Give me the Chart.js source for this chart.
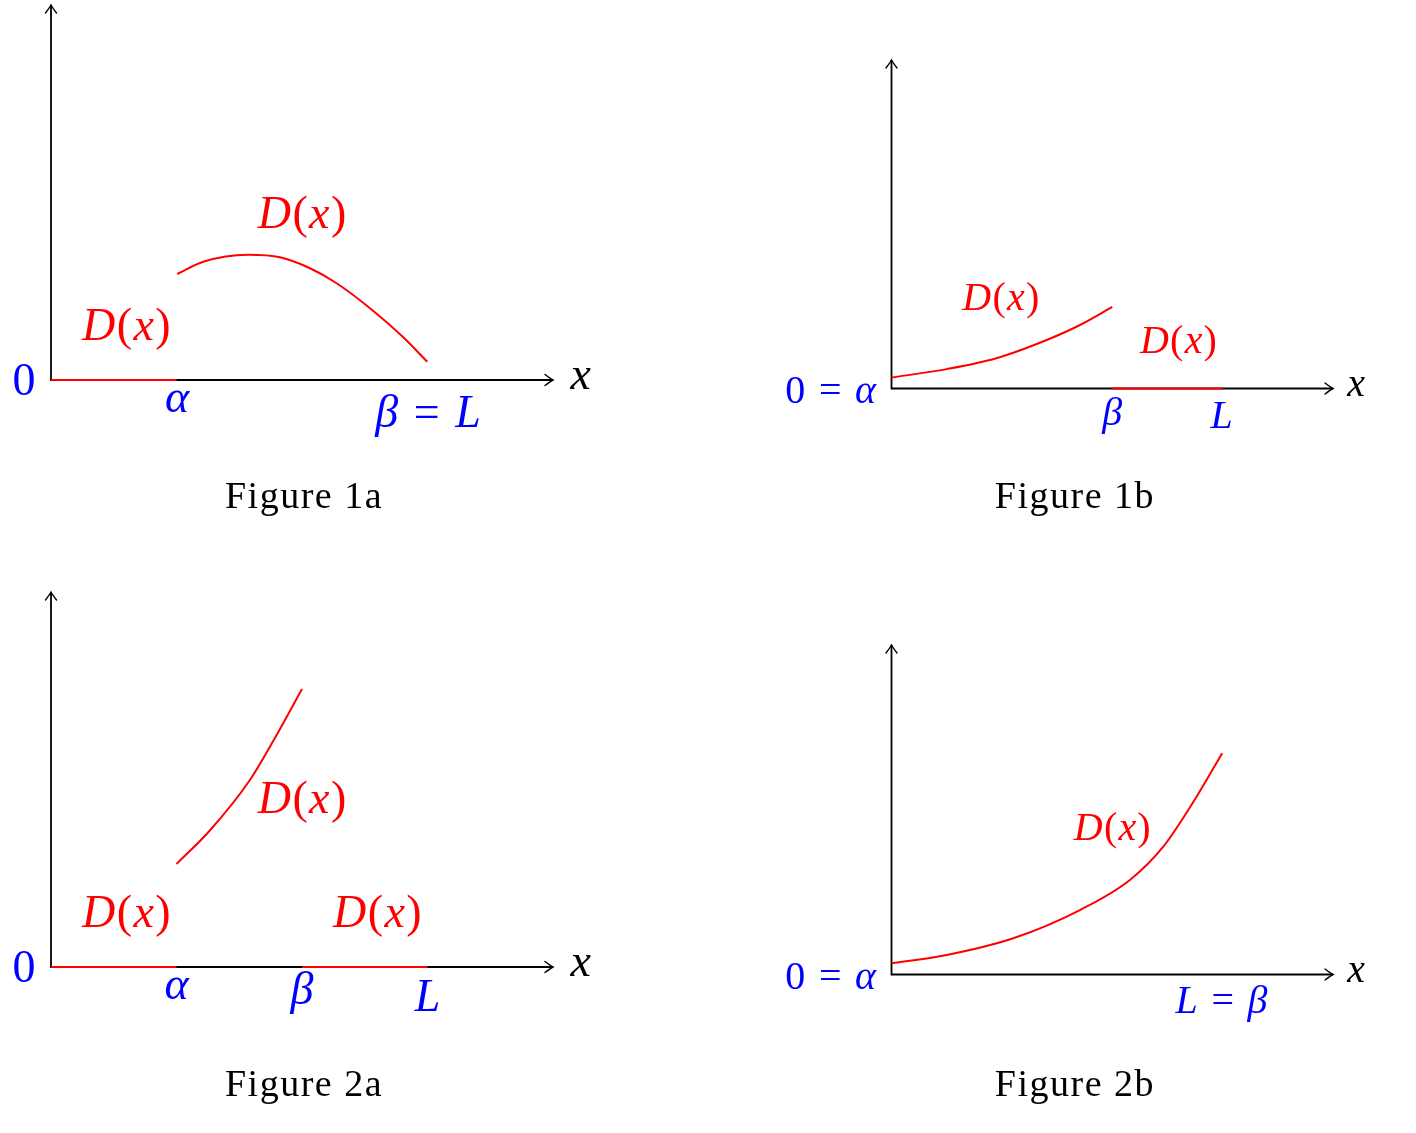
<!DOCTYPE html>
<html>
<head>
<meta charset="utf-8">
<script src="https://cdn.jsdelivr.net/npm/chart.js@4.4.1/dist/chart.umd.min.js"></script>
<style>
  html, body { margin: 0; padding: 0; background: #ffffff; }
  #wrap { position: relative; width: 1416px; height: 1133px; background: #fff; overflow: hidden; }
  canvas { position: absolute; }
</style>
</head>
<body>
<div id="wrap">
  <canvas id="c1a"></canvas>
  <canvas id="c1b"></canvas>
  <canvas id="c2a"></canvas>
  <canvas id="c2b"></canvas>
</div>
<script>
// ---------------- DATA ----------------
// Figure 1a
const fig1aCurveX = [1.006, 1.213, 1.572, 1.825, 2.064, 2.276, 2.542, 2.807, 2.998];
const fig1aCurveY = [0.848, 0.946, 1.002, 0.982, 0.894, 0.774, 0.574, 0.342, 0.146];
const fig1aFlatX  = [0, 1];           // D(x) = 0 on [0, alpha]
// Figure 1b
const fig1bCurveX = [0, 0.50, 0.95, 1.406, 1.708, 2.0];
const fig1bCurveY = [0.100, 0.177, 0.276, 0.443, 0.580, 0.745];
const fig1bFlatX  = [2, 3];           // D(x) = 0 on [beta, L]
// Figure 2a
const fig2aCurveX = [1.0, 1.262, 1.585, 1.79, 2.0];
const fig2aCurveY = [0.824, 1.088, 1.496, 1.842, 2.224];
const fig2aFlat1X = [0, 1];
const fig2aFlat2X = [2, 3];
// Figure 2b
const fig2bCurveX = [0, 0.50, 1.103, 1.707, 2.16, 2.462, 2.764, 2.996];
const fig2bCurveY = [0.102, 0.178, 0.330, 0.587, 0.861, 1.164, 1.619, 2.015];
// axis extents (data units)
const axisXMax = 4;
const axisYMax = 3;
// text content
const fig1aTexts = ['0', 'α', 'β = L', 'D(x)', 'D(x)', 'x'];
const fig1bTexts = ['0 = α', 'β', 'L', 'D(x)', 'D(x)', 'x'];
const fig2aTexts = ['0', 'α', 'β', 'L', 'D(x)', 'D(x)', 'D(x)', 'x'];
const fig2bTexts = ['0 = α', 'L = β', 'D(x)', 'x'];
const captions = ['Figure 1a', 'Figure 1b', 'Figure 2a', 'Figure 2b'];

// ---------------- LAYOUT / STYLE ----------------
const RED = '#ff0000', BLUE = '#0000ff', BLACK = '#000000';
const SERIF = '"Liberation Serif", "DejaVu Serif", serif';

function pts(xs, ys) { return xs.map((x, i) => ({ x: x, y: ys[i] })); }
function flat(xs) { return xs.map(x => ({ x: x, y: 0 })); }

const panels = [
  {
    id: 'c1a', left: 0, top: 0, w: 708, h: 560,
    pad: { left: 51, top: 5, right: 155, bottom: 180 }, fs: 46,
    caption: { text: captions[0], x: 2.016, y: -1.024 },
    labels: [
      { t: fig1aTexts[0], x: -0.215, y: -0.12, c: BLUE },
      { t: fig1aTexts[1], x: 1.004, y: -0.256, c: BLUE },
      { t: fig1aTexts[2], x: 3.004, y: -0.376, c: BLUE },
      { t: fig1aTexts[3], x: 2.0, y: 1.216, c: RED },
      { t: fig1aTexts[4], x: 0.6, y: 0.32, c: RED },
      { t: fig1aTexts[5], x: 4.22, y: -0.072, c: BLACK }
    ],
    datasets: [pts(fig1aCurveX, fig1aCurveY), flat(fig1aFlatX)]
  },
  {
    id: 'c1b', left: 708, top: 0, w: 708, h: 560,
    pad: { left: 183.5, top: 60, right: 83, bottom: 171.5 }, fs: 40,
    caption: { text: captions[1], x: 1.662, y: -1.09 },
    labels: [
      { t: fig1bTexts[0], x: -0.14, y: -0.132, c: BLUE, a: 'right' },
      { t: fig1bTexts[1], x: 2.0, y: -0.333, c: BLUE },
      { t: fig1bTexts[2], x: 2.99, y: -0.36, c: BLUE },
      { t: fig1bTexts[3], x: 0.99, y: 0.717, c: RED },
      { t: fig1bTexts[4], x: 2.6, y: 0.324, c: RED },
      { t: fig1bTexts[5], x: 4.21, y: -0.07, c: BLACK }
    ],
    datasets: [pts(fig1bCurveX, fig1bCurveY), flat(fig1bFlatX)]
  },
  {
    id: 'c2a', left: 0, top: 560, w: 708, h: 573,
    pad: { left: 51, top: 32, right: 155, bottom: 166 }, fs: 46,
    caption: { text: captions[2], x: 2.016, y: -1.032 },
    labels: [
      { t: fig2aTexts[0], x: -0.215, y: -0.12, c: BLUE },
      { t: fig2aTexts[1], x: 1.0, y: -0.256, c: BLUE },
      { t: fig2aTexts[2], x: 2.0, y: -0.296, c: BLUE },
      { t: fig2aTexts[3], x: 3.0, y: -0.352, c: BLUE },
      { t: fig2aTexts[4], x: 2.0, y: 1.232, c: RED },
      { t: fig2aTexts[5], x: 0.6, y: 0.32, c: RED },
      { t: fig2aTexts[6], x: 2.6, y: 0.32, c: RED },
      { t: fig2aTexts[7], x: 4.22, y: -0.072, c: BLACK }
    ],
    datasets: [pts(fig2aCurveX, fig2aCurveY), flat(fig2aFlat1X), flat(fig2aFlat2X)]
  },
  {
    id: 'c2b', left: 708, top: 560, w: 708, h: 573,
    pad: { left: 183.5, top: 85, right: 83, bottom: 158.5 }, fs: 40,
    caption: { text: captions[3], x: 1.662, y: -1.107 },
    labels: [
      { t: fig2bTexts[0], x: -0.14, y: -0.132, c: BLUE, a: 'right' },
      { t: fig2bTexts[1], x: 2.99, y: -0.35, c: BLUE },
      { t: fig2bTexts[2], x: 2.0, y: 1.225, c: RED },
      { t: fig2bTexts[3], x: 4.21, y: -0.068, c: BLACK }
    ],
    datasets: [pts(fig2bCurveX, fig2bCurveY)]
  }
];

// math-like text: letters italic, digits / symbols upright, spaced '='
function mathRuns(str) {
  const runs = [];
  for (const ch of str) {
    if (ch === ' ') continue;
    runs.push({ ch: ch, it: /[A-Za-z\u03b1-\u03c9]/.test(ch) });
  }
  return runs;
}
function drawMath(ctx, str, x, y, size, color, align) {
  const runs = mathRuns(str);
  const gap = size * 0.34;
  let total = 0;
  runs.forEach(r => {
    ctx.font = (r.it ? 'italic ' : '') + size + 'px ' + SERIF;
    r.w = ctx.measureText(r.ch).width;
    r.pre = r.ch === '=' ? gap : (r.ch === ')' || r.ch === '(' ? size * 0.03 : 0);
    r.post = r.ch === '=' ? gap : (r.ch === '(' ? size * 0.03 : 0);
    total += r.pre + r.w + r.post;
  });
  let cx = align === 'right' ? x - total : (align === 'left' ? x : x - total / 2);
  ctx.fillStyle = color;
  ctx.textAlign = 'left';
  ctx.textBaseline = 'alphabetic';
  runs.forEach(r => {
    ctx.font = (r.it ? 'italic ' : '') + size + 'px ' + SERIF;
    cx += r.pre;
    ctx.fillText(r.ch, cx, y);
    cx += r.w + r.post;
  });
}

function arrowHead(ctx, x, y, dir) {
  const L = 8, W = 5.5;
  ctx.beginPath();
  if (dir === 'right') {
    ctx.moveTo(x - L, y - W);
    ctx.quadraticCurveTo(x - 2, y - 1, x, y);
    ctx.quadraticCurveTo(x - 2, y + 1, x - L, y + W);
  } else {
    ctx.moveTo(x - W, y + L);
    ctx.quadraticCurveTo(x - 1, y + 2, x, y);
    ctx.quadraticCurveTo(x + 1, y + 2, x + W, y + L);
  }
  ctx.stroke();
}

const axesPlugin = {
  id: 'texAxes',
  beforeDatasetsDraw(chart) {
    const ctx = chart.ctx;
    const xs = chart.scales.x, ys = chart.scales.y;
    const x0 = xs.getPixelForValue(0), y0 = ys.getPixelForValue(0);
    const x1 = xs.getPixelForValue(axisXMax), y1 = ys.getPixelForValue(axisYMax);
    ctx.save();
    ctx.strokeStyle = BLACK;
    ctx.lineWidth = 1.8;
    ctx.lineCap = 'butt';
    ctx.beginPath();
    ctx.moveTo(x0 - 0.9, y0); ctx.lineTo(x1, y0);
    ctx.moveTo(x0, y0 + 0.9); ctx.lineTo(x0, y1);
    ctx.stroke();
    ctx.lineWidth = 1.4;
    ctx.lineCap = 'round';
    arrowHead(ctx, x1, y0, 'right');
    arrowHead(ctx, x0, y1, 'up');
    ctx.restore();
  },
  afterDatasetsDraw(chart, args, opts) {
    const p = opts.panel;
    const ctx = chart.ctx;
    const xs = chart.scales.x, ys = chart.scales.y;
    ctx.save();
    p.labels.forEach(l => {
      drawMath(ctx, l.t, xs.getPixelForValue(l.x), ys.getPixelForValue(l.y), p.fs, l.c, l.a || 'center');
    });
    ctx.font = '38px ' + SERIF;
    ctx.fillStyle = BLACK;
    ctx.textAlign = 'center';
    ctx.textBaseline = 'alphabetic';
    try { ctx.letterSpacing = '1.5px'; } catch (e) {}
    ctx.fillText(p.caption.text, xs.getPixelForValue(p.caption.x), ys.getPixelForValue(p.caption.y));
    ctx.restore();
  }
};

panels.forEach(p => {
  const cv = document.getElementById(p.id);
  cv.width = p.w; cv.height = p.h;
  cv.style.left = p.left + 'px'; cv.style.top = p.top + 'px';
  cv.style.width = p.w + 'px'; cv.style.height = p.h + 'px';
  new Chart(cv.getContext('2d'), {
    type: 'scatter',
    data: {
      datasets: p.datasets.map(d => ({
        data: d,
        showLine: true,
        borderColor: RED,
        backgroundColor: RED,
        borderWidth: 2,
        pointRadius: 0,
        pointHoverRadius: 0,
        cubicInterpolationMode: 'monotone',
        clip: false
      }))
    },
    options: {
      responsive: false,
      animation: false,
      devicePixelRatio: 1,
      events: [],
      layout: { padding: p.pad },
      plugins: {
        legend: { display: false },
        tooltip: { enabled: false },
        title: { display: false },
        texAxes: { panel: p }
      },
      scales: {
        x: { type: 'linear', min: 0, max: axisXMax, display: false },
        y: { type: 'linear', min: 0, max: axisYMax, display: false }
      }
    },
    plugins: [axesPlugin]
  });
});
</script>
</body>
</html>
